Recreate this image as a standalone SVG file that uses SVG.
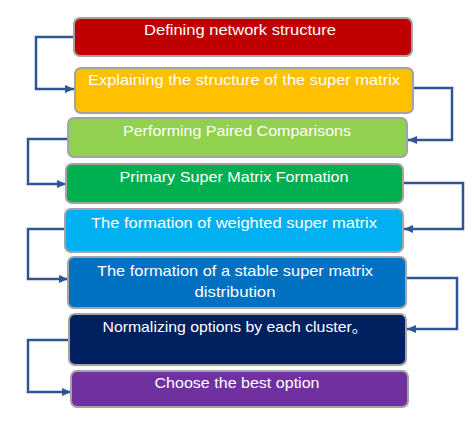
<svg xmlns="http://www.w3.org/2000/svg" width="474" height="435" viewBox="0 0 474 435">
<style>
.box{stroke:#a3a3a3;stroke-width:2}
.lbl{font-family:"Liberation Sans","Noto Sans CJK SC",sans-serif;font-size:14.5px;fill:#ffffff;text-anchor:middle}
.con{fill:none;stroke:#2f5597;stroke-width:2.5}
</style>
<defs>
<marker id="arr" markerUnits="userSpaceOnUse" markerWidth="10" markerHeight="10" viewBox="0 0 10 10" refX="9" refY="5" orient="auto">
<path d="M0,1 L9,5 L0,9 Z" fill="#2f5597"/>
</marker>
</defs>
<rect width="474" height="435" fill="#ffffff"/>
<g id="connectors">
<path class="con" d="M74,37 H36 V89 H74" marker-end="url(#arr)"/>
<path class="con" d="M413,88 H452 V140 H408" marker-end="url(#arr)"/>
<path class="con" d="M68,139 H28 V184 H66" marker-end="url(#arr)"/>
<path class="con" d="M403,183 H463 V229 H404" marker-end="url(#arr)"/>
<path class="con" d="M65,229 H28 V279 H68" marker-end="url(#arr)"/>
<path class="con" d="M406,278 H457 V329 H407" marker-end="url(#arr)"/>
<path class="con" d="M69,340 H28 V392 H71" marker-end="url(#arr)"/>
</g>
<g id="n1"><rect class="box" x="74" y="18" width="338" height="38" rx="6" fill="#c00000"/>
<text class="lbl" x="240" y="35" textLength="192" lengthAdjust="spacingAndGlyphs">Defining network structure</text></g>
<g id="n2"><rect class="box" x="75" y="68" width="338" height="45" rx="6" fill="#ffc000"/>
<text class="lbl" x="244" y="85" textLength="312" lengthAdjust="spacingAndGlyphs">Explaining the structure of the super matrix</text></g>
<g id="n3"><rect class="box" x="68" y="118" width="339" height="39" rx="6" fill="#92d050"/>
<text class="lbl" x="237" y="136" textLength="228" lengthAdjust="spacingAndGlyphs">Performing Paired Comparisons</text></g>
<g id="n4"><rect class="box" x="66" y="164" width="337" height="39" rx="6" fill="#00b050"/>
<text class="lbl" x="234" y="182" textLength="229" lengthAdjust="spacingAndGlyphs">Primary Super Matrix Formation</text></g>
<g id="n5"><rect class="box" x="65" y="209" width="338" height="43" rx="6" fill="#00b0f0"/>
<text class="lbl" x="234" y="228" textLength="286" lengthAdjust="spacingAndGlyphs">The formation of weighted super matrix</text></g>
<g id="n6"><rect class="box" x="68" y="257" width="338" height="51" rx="6" fill="#0070c0"/>
<text class="lbl" x="235" y="276" textLength="276" lengthAdjust="spacingAndGlyphs">The formation of a stable super matrix</text>
<text class="lbl" x="235" y="297" textLength="81" lengthAdjust="spacingAndGlyphs">distribution</text></g>
<g id="n7"><rect class="box" x="69" y="314" width="337" height="51" rx="6" fill="#002060"/>
<text class="lbl" x="235" y="332" textLength="265" lengthAdjust="spacingAndGlyphs">Normalizing options by each cluster。</text></g>
<g id="n8"><rect class="box" x="71" y="371" width="337" height="36" rx="6" fill="#7030a0"/>
<text class="lbl" x="237" y="388" textLength="165" lengthAdjust="spacingAndGlyphs">Choose the best option</text></g>
</svg>
